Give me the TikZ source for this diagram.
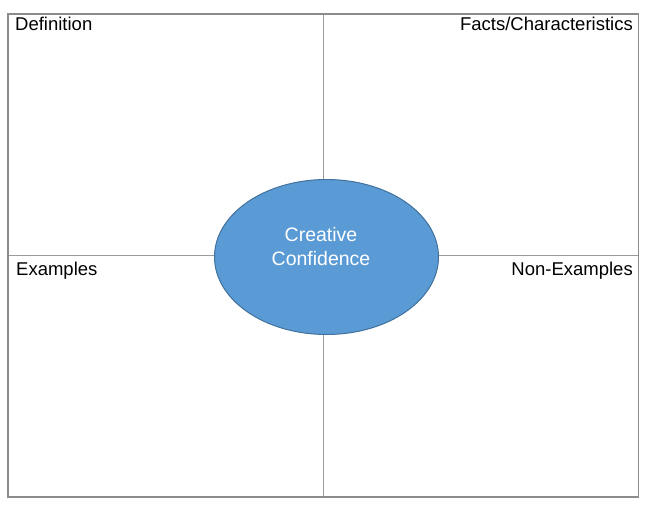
\documentclass[tikz,border=0pt]{standalone}
\usepackage{fontspec}
\setmainfont{Liberation Sans}
\usetikzlibrary{shapes.geometric}
\definecolor{framegray}{HTML}{8C8C8C}
\definecolor{linegray}{HTML}{9A9A9A}
\definecolor{ellfill}{HTML}{5B9BD5}
\definecolor{ellline}{HTML}{41719C}
\tikzset{
  frame/.style={draw=framegray, line width=1.3pt},
  divider/.style={draw=linegray, line width=0.9pt},
  corner/.style={inner sep=0pt, font=\fontsize{18.5}{22}\selectfont, text=black},
  centre/.style={ellipse, draw=ellline, line width=1pt, fill=ellfill, minimum width=224pt, minimum height=155pt, inner sep=0pt},
  centretext/.style={inner sep=0pt, align=center, text=white, font=\fontsize{19.5}{24}\selectfont}
}
\begin{document}
\begin{tikzpicture}[x=1pt,y=-1pt]
\useasboundingbox (0,0) rectangle (646,507);
\coordinate (tl) at (8,14);
\coordinate (br) at (638.5,497);
\coordinate (vt) at (323.5,14);
\coordinate (vb) at (323.5,497);
\coordinate (hl) at (8,255);
\coordinate (hr) at (638.5,255);
\draw[divider] (vt) -- (vb);
\draw[divider] (hl) -- (hr);
\draw[frame] (tl) rectangle (br);
\node[centre] (ell) at (326.5,257) {};
\node[centretext, anchor=base] (ct) at (321,265.7) {Creative\\Confidence};
\node[corner, anchor=base west] (def) at (15,30) {Definition};
\node[corner, anchor=base east] (facts) at (633,30) {Facts/Characteristics};
\node[corner, anchor=base west] (ex) at (16,275.7) {Examples};
\node[corner, anchor=base east] (nonex) at (633,275.7) {Non-Examples};
\end{tikzpicture}
\end{document}
